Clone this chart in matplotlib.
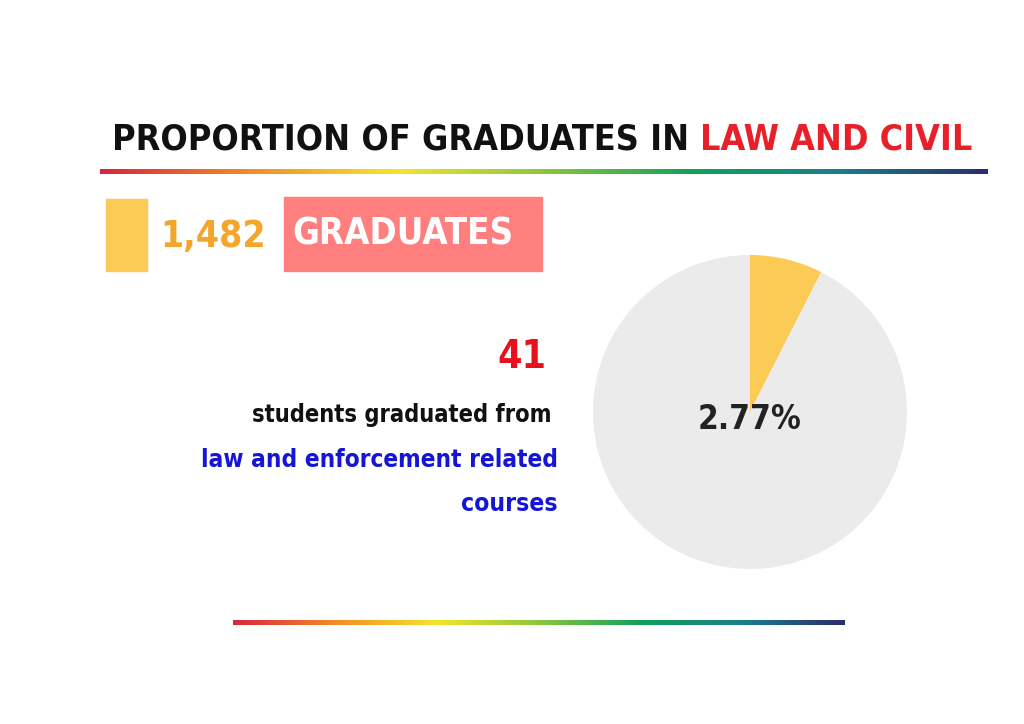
import numpy as np
import matplotlib.pyplot as plt
from matplotlib.colors import LinearSegmentedColormap

# data
total_graduates = "1,482"
law_graduates = "41"
share_label = "2.77%"
pie_values = [7.5, 92.5]          # wedge size as drawn in the reference
pie_colors = ["#fccb56", "#ebebeb"]

W, H = 1024, 724
fig = plt.figure(figsize=(W / 100, H / 100), dpi=100)
bg = fig.add_axes([0, 0, 1, 1])
bg.set_xlim(0, W)
bg.set_ylim(H, 0)
bg.axis("off")

font = ["DejaVu Sans"]
rainbow = LinearSegmentedColormap.from_list(
    "rb", ["#d7263d", "#f28c28", "#f5e52a", "#8cc63f", "#12a05a", "#1b7f8a", "#2b2d6e"])
renderer = fig.canvas.get_renderer()


def gradient_line(x0, x1, y, h):
    grad = np.linspace(0, 1, 256).reshape(1, -1)
    bg.imshow(grad, cmap=rainbow, extent=[x0, x1, y + h / 2, y - h / 2], aspect="auto")


def fit_text(x0, x1, y, s, size, color, ha="left"):
    # shrink the font so the text spans x0..x1 pixels
    x = x0 if ha == "left" else x1
    t = bg.text(x, y, s, fontsize=size, fontweight="bold", family=font,
                fontstretch="condensed", color=color, va="center", ha=ha)
    w = t.get_window_extent(renderer).width
    if w > x1 - x0:
        t.set_fontsize(size * (x1 - x0) / w)
    return t


# title
fit_text(112, 690, 140, "PROPORTION OF GRADUATES IN", 38, "#111111")
fit_text(700, 972, 140, "LAW AND CIVIL", 38, "#e8202a")
gradient_line(100, 988, 172, 5)

# total graduates
bg.add_patch(plt.Rectangle((106, 199), 41, 72, color="#fccb56"))
fit_text(160, 266, 236, total_graduates, 36, "#f4a62a")
bg.add_patch(plt.Rectangle((284, 197), 258, 74, color="#ff7f7f"))
fit_text(292, 514, 234, "GRADUATES", 36, "white")

# description
fit_text(497, 546, 357, law_graduates, 42, "#e8101a", ha="right")
fit_text(253, 552, 415, "students graduated from", 22, "#111111", ha="right")
fit_text(203, 558, 460, "law and enforcement related", 22, "#1515d6", ha="right")
fit_text(462, 558, 504, "courses", 22, "#1515d6", ha="right")

gradient_line(233, 845, 623, 5)

# pie
r = 157
cx, cy = 750, 412
pie_ax = fig.add_axes([(cx - r) / W, 1 - (cy + r) / H, 2 * r / W, 2 * r / H])
pie_ax.pie(pie_values, colors=pie_colors, startangle=90, counterclock=False,
           wedgeprops=dict(linewidth=0))
pie_ax.set_xlim(-1, 1)
pie_ax.set_ylim(-1, 1)
pie_ax.set_aspect("auto")
pie_ax.axis("off")
t = pie_ax.text(0, -0.05, share_label, fontsize=40, fontweight="bold", family=font,
                fontstretch="condensed", color="#222222", ha="center", va="center")
w = t.get_window_extent(renderer).width
if w > 104:
    t.set_fontsize(40 * 104 / w)

fig.savefig("out.png", dpi=100, facecolor="white")
